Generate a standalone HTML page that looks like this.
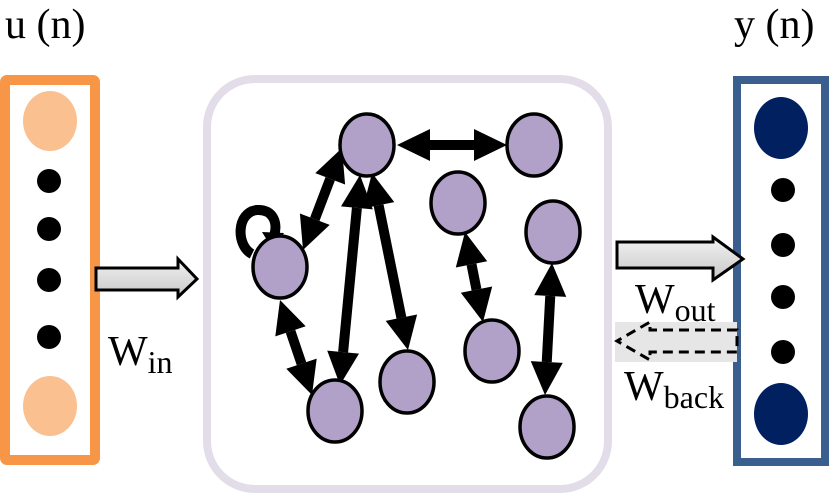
<!DOCTYPE html>
<html><head><style>body{margin:0;background:#fff}svg{display:block}</style></head><body>
<svg width="832" height="499" viewBox="0 0 832 499" xmlns="http://www.w3.org/2000/svg" font-family="Liberation Serif, serif">
<defs>
<linearGradient id="g" x1="0" y1="0" x2="0" y2="1"><stop offset="0" stop-color="#f2f2f2"/><stop offset="1" stop-color="#c8c8c8"/></linearGradient>
</defs>
<text x="5" y="38" font-size="42">u (n)</text>
<text x="734" y="38" font-size="42">y (n)</text>
<rect x="5" y="80" width="90" height="380" fill="#fff" stroke="#f79646" stroke-width="10" rx="2"/>
<ellipse cx="50" cy="121" rx="27" ry="30" fill="#fac090"/>
<ellipse cx="50" cy="406" rx="27" ry="30" fill="#fac090"/>
<g fill="#000"><circle cx="49" cy="181" r="12"/><circle cx="49" cy="229" r="12"/><circle cx="49" cy="280" r="12"/><circle cx="49" cy="337" r="12"/></g>
<rect x="737" y="80" width="88" height="382" fill="#fff" stroke="#3a5f8f" stroke-width="8"/>
<ellipse cx="781" cy="128" rx="27" ry="31" fill="#002060"/>
<ellipse cx="781" cy="414" rx="27" ry="31" fill="#002060"/>
<g fill="#000"><circle cx="783" cy="190" r="12"/><circle cx="783" cy="245" r="12"/><circle cx="783" cy="297" r="12"/><circle cx="783" cy="352" r="12"/></g>
<rect x="207" y="79" width="401" height="410" rx="48" fill="#fff" stroke="#e3dde9" stroke-width="8"/>
<!-- W_in arrow -->
<path d="M96,268 H178 V259 L197,279 L178,297 V290 H96 z" fill="url(#g)" stroke="#000" stroke-width="3"/>
<text x="108" y="365" font-size="42">W<tspan font-size="32" dy="8">in</tspan></text>
<!-- W_out arrow -->
<path d="M617,242 H713 V237 L743,259 L713,280 V268 H617 z" fill="url(#g)" stroke="#000" stroke-width="3"/>
<text x="635" y="313" font-size="42">W<tspan font-size="32" dy="8">out</tspan></text>
<!-- W_back arrow dashed -->
<rect x="615" y="322" width="122" height="40" fill="#e6e6e6"/>
<path d="M737,330 H650 V322 L617,341 L650,360 V352 H737 z" fill="none" stroke="#000" stroke-width="3" stroke-dasharray="10,6"/>
<text x="624" y="400" font-size="42">W<tspan font-size="32" dy="8">back</tspan></text>
<!-- edges shafts -->
<g stroke="#000" stroke-width="10" fill="none">
<line x1="430" y1="145" x2="474" y2="145"/>
<line x1="330.2" y1="178.8" x2="314.8" y2="219.2"/>
<line x1="356.9" y1="207.9" x2="343.1" y2="352.1"/>
<line x1="378.6" y1="205.3" x2="401.4" y2="317.7"/>
<line x1="290.5" y1="331.3" x2="301.5" y2="363.7"/>
<line x1="471.5" y1="264.4" x2="476.5" y2="289.6"/>
<line x1="550.25" y1="296" x2="546.75" y2="362"/>
</g>
<g fill="#000">
<polygon points="507,145 474,129 474,161"/><polygon points="397,145 430,129 430,161"/>
<polygon points="303,250 329.7,224.9 299.9,213.5"/><polygon points="342,148 345.1,184.5 315.3,173.1"/>
<polygon points="340,385 359,353.6 327.2,350.6"/><polygon points="360,175 372.8,209.4 341,206.4"/>
<polygon points="408,350 417.1,314.5 385.7,320.9"/><polygon points="372,173 394.3,202.1 362.9,208.5"/>
<polygon points="312,395 316.7,358.6 286.3,368.8"/><polygon points="280,300 305.7,326.2 275.3,336.4"/>
<polygon points="483,322 492.2,286.5 460.8,292.7"/><polygon points="465,232 487.2,261.3 455.8,267.5"/>
<polygon points="545,395 562.75,362.85 530.75,361.15"/><polygon points="552,263 566.25,296.85 534.25,295.15"/>
</g>
<path d="M252,254 C236,246 236,212 257,210 C274,209 278,224 274,236" stroke="#000" stroke-width="10" fill="none"/>
<path d="M262,232 L284,233 L273,250 z" fill="#000"/>
<!-- nodes -->
<g fill="#b1a0c7" stroke="#000" stroke-width="3.5">
<ellipse cx="367" cy="145" rx="27" ry="31"/>
<ellipse cx="534" cy="145" rx="27" ry="31"/>
<ellipse cx="280" cy="267" rx="27" ry="31"/>
<ellipse cx="335" cy="411" rx="27" ry="31"/>
<ellipse cx="407" cy="382" rx="27" ry="31"/>
<ellipse cx="458" cy="203" rx="27" ry="31"/>
<ellipse cx="492" cy="351" rx="27" ry="31"/>
<ellipse cx="553" cy="232" rx="27" ry="31"/>
<ellipse cx="547" cy="427" rx="27" ry="31"/>
</g>
</svg>
</body></html>
